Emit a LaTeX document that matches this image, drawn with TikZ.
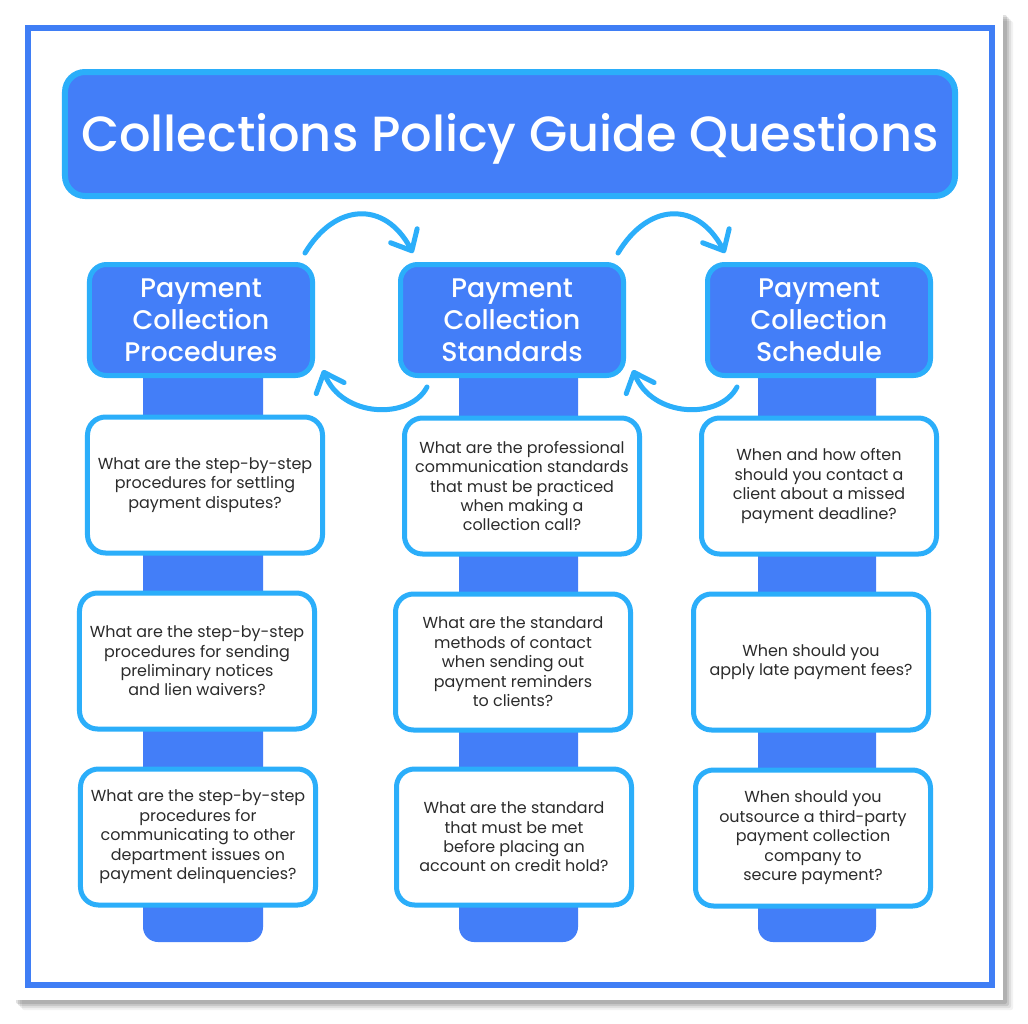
\documentclass[tikz,border=0pt]{standalone}
\usepackage{fontspec}
\setmainfont{Poppins}
\newfontfamily\medfont{Poppins Medium}
\usepackage{xcolor}
\usetikzlibrary{arrows.meta}
\definecolor{mainblue}{HTML}{437EF8}
\definecolor{lightblue}{HTML}{2BAEFA}
\definecolor{frameblue}{HTML}{3F7EF5}
\definecolor{qtext}{HTML}{2B2B2B}

\begin{document}
\begin{tikzpicture}[x=1bp, y=-1bp,
    title_box/.style={draw=lightblue, fill=mainblue, line width=6bp, rounded corners=20bp, minimum width=890bp, minimum height=124bp, text height=35bp, text depth=0bp, text=white, font=\medfont\fontsize{49.6}{60}\selectfont},
    head_box/.style={draw=lightblue, fill=mainblue, line width=5bp, rounded corners=17bp, minimum width=223bp, minimum height=111bp, align=center, text=white, font=\medfont\fontsize{27}{32}\selectfont},
    question_box/.style={draw=lightblue, fill=white, line width=5bp, rounded corners=18bp, minimum width=235bp, minimum height=136bp, align=center, text=qtext, font=\fontsize{16}{19.5}\selectfont},
    cycle_arrow/.style={draw=lightblue, line width=5bp, line cap=round, -{Straight Barb[length=17bp, width=30bp, round]}}]
    \useasboundingbox (0,0) rectangle (1028,1024);
    % card with soft shadow
    \foreach \s/\o in {10/0.05, 8/0.08, 6/0.1, 4/0.12}
        \fill[black, opacity=\o, rounded corners=2bp] (12+\s,11+\s) rectangle (1003+\s,1000+\s);
    \fill[white] (12,11) rectangle (1003,1000);
    \draw[frameblue, line width=6bp] (28,28) rectangle (992,985);

    % spines behind the columns
    \fill[mainblue, rounded corners=15bp] (143,330) rectangle (263,942);
    \fill[mainblue, rounded corners=15bp] (459,330) rectangle (578,942);
    \fill[mainblue, rounded corners=15bp] (758,330) rectangle (876,942);

    \node[title_box] (guide_title) at (510,134) {Collections Policy Guide Questions};

    \node[head_box] (proc_head) at (201,320) {Payment\\Collection\\Procedures};
    \node[head_box] (stand_head) at (512,320) {Payment\\Collection\\Standards};
    \node[head_box] (sched_head) at (819,320) {Payment\\Collection\\Schedule};

    \node[question_box] (proc_q1) at (205,485) {What are the step-by-step\\procedures for settling\\payment disputes?};
    \node[question_box] (proc_q2) at (197,661) {What are the step-by-step\\procedures for sending\\preliminary notices\\and lien waivers?};
    \node[question_box] (proc_q3) at (198,837) {What are the step-by-step\\procedures for\\communicating to other\\department issues on\\payment delinquencies?};

    \node[question_box] (stand_q1) at (522,486) {What are the professional\\communication standards\\that must be practiced\\when making a\\collection call?};
    \node[question_box] (stand_q2) at (513,662) {What are the standard\\methods of contact\\when sending out\\payment reminders\\to clients?};
    \node[question_box] (stand_q3) at (514,837) {What are the standard\\that must be met\\before placing an\\account on credit hold?};

    \node[question_box] (sched_q1) at (819,486) {When and how often\\should you contact a\\client about a missed\\payment deadline?};
    \node[question_box] (sched_q2) at (811,662) {When should you\\apply late payment fees?};
    \node[question_box] (sched_q3) at (813,838) {When should you\\outsource a third-party\\payment collection\\company to\\secure payment?};

    % circular arrows between the headers
    \draw[cycle_arrow] ([shift={(-10,-9)}]proc_head.north east) .. controls +(30,-50) and +(-28,-53) .. ([shift={(15,-9)}]stand_head.north west);
    \draw[cycle_arrow] ([shift={(29,9)}]stand_head.south west) .. controls +(-17,33) and +(19,48) .. ([shift={(8,-8)}]proc_head.south east);
    \draw[cycle_arrow] ([shift={(-8,-9)}]stand_head.north east) .. controls +(30,-50) and +(-28,-53) .. ([shift={(20,-9)}]sched_head.north west);
    \draw[cycle_arrow] ([shift={(32,9)}]sched_head.south west) .. controls +(-17,33) and +(19,48) .. ([shift={(7,-8)}]stand_head.south east);
\end{tikzpicture}
\end{document}
